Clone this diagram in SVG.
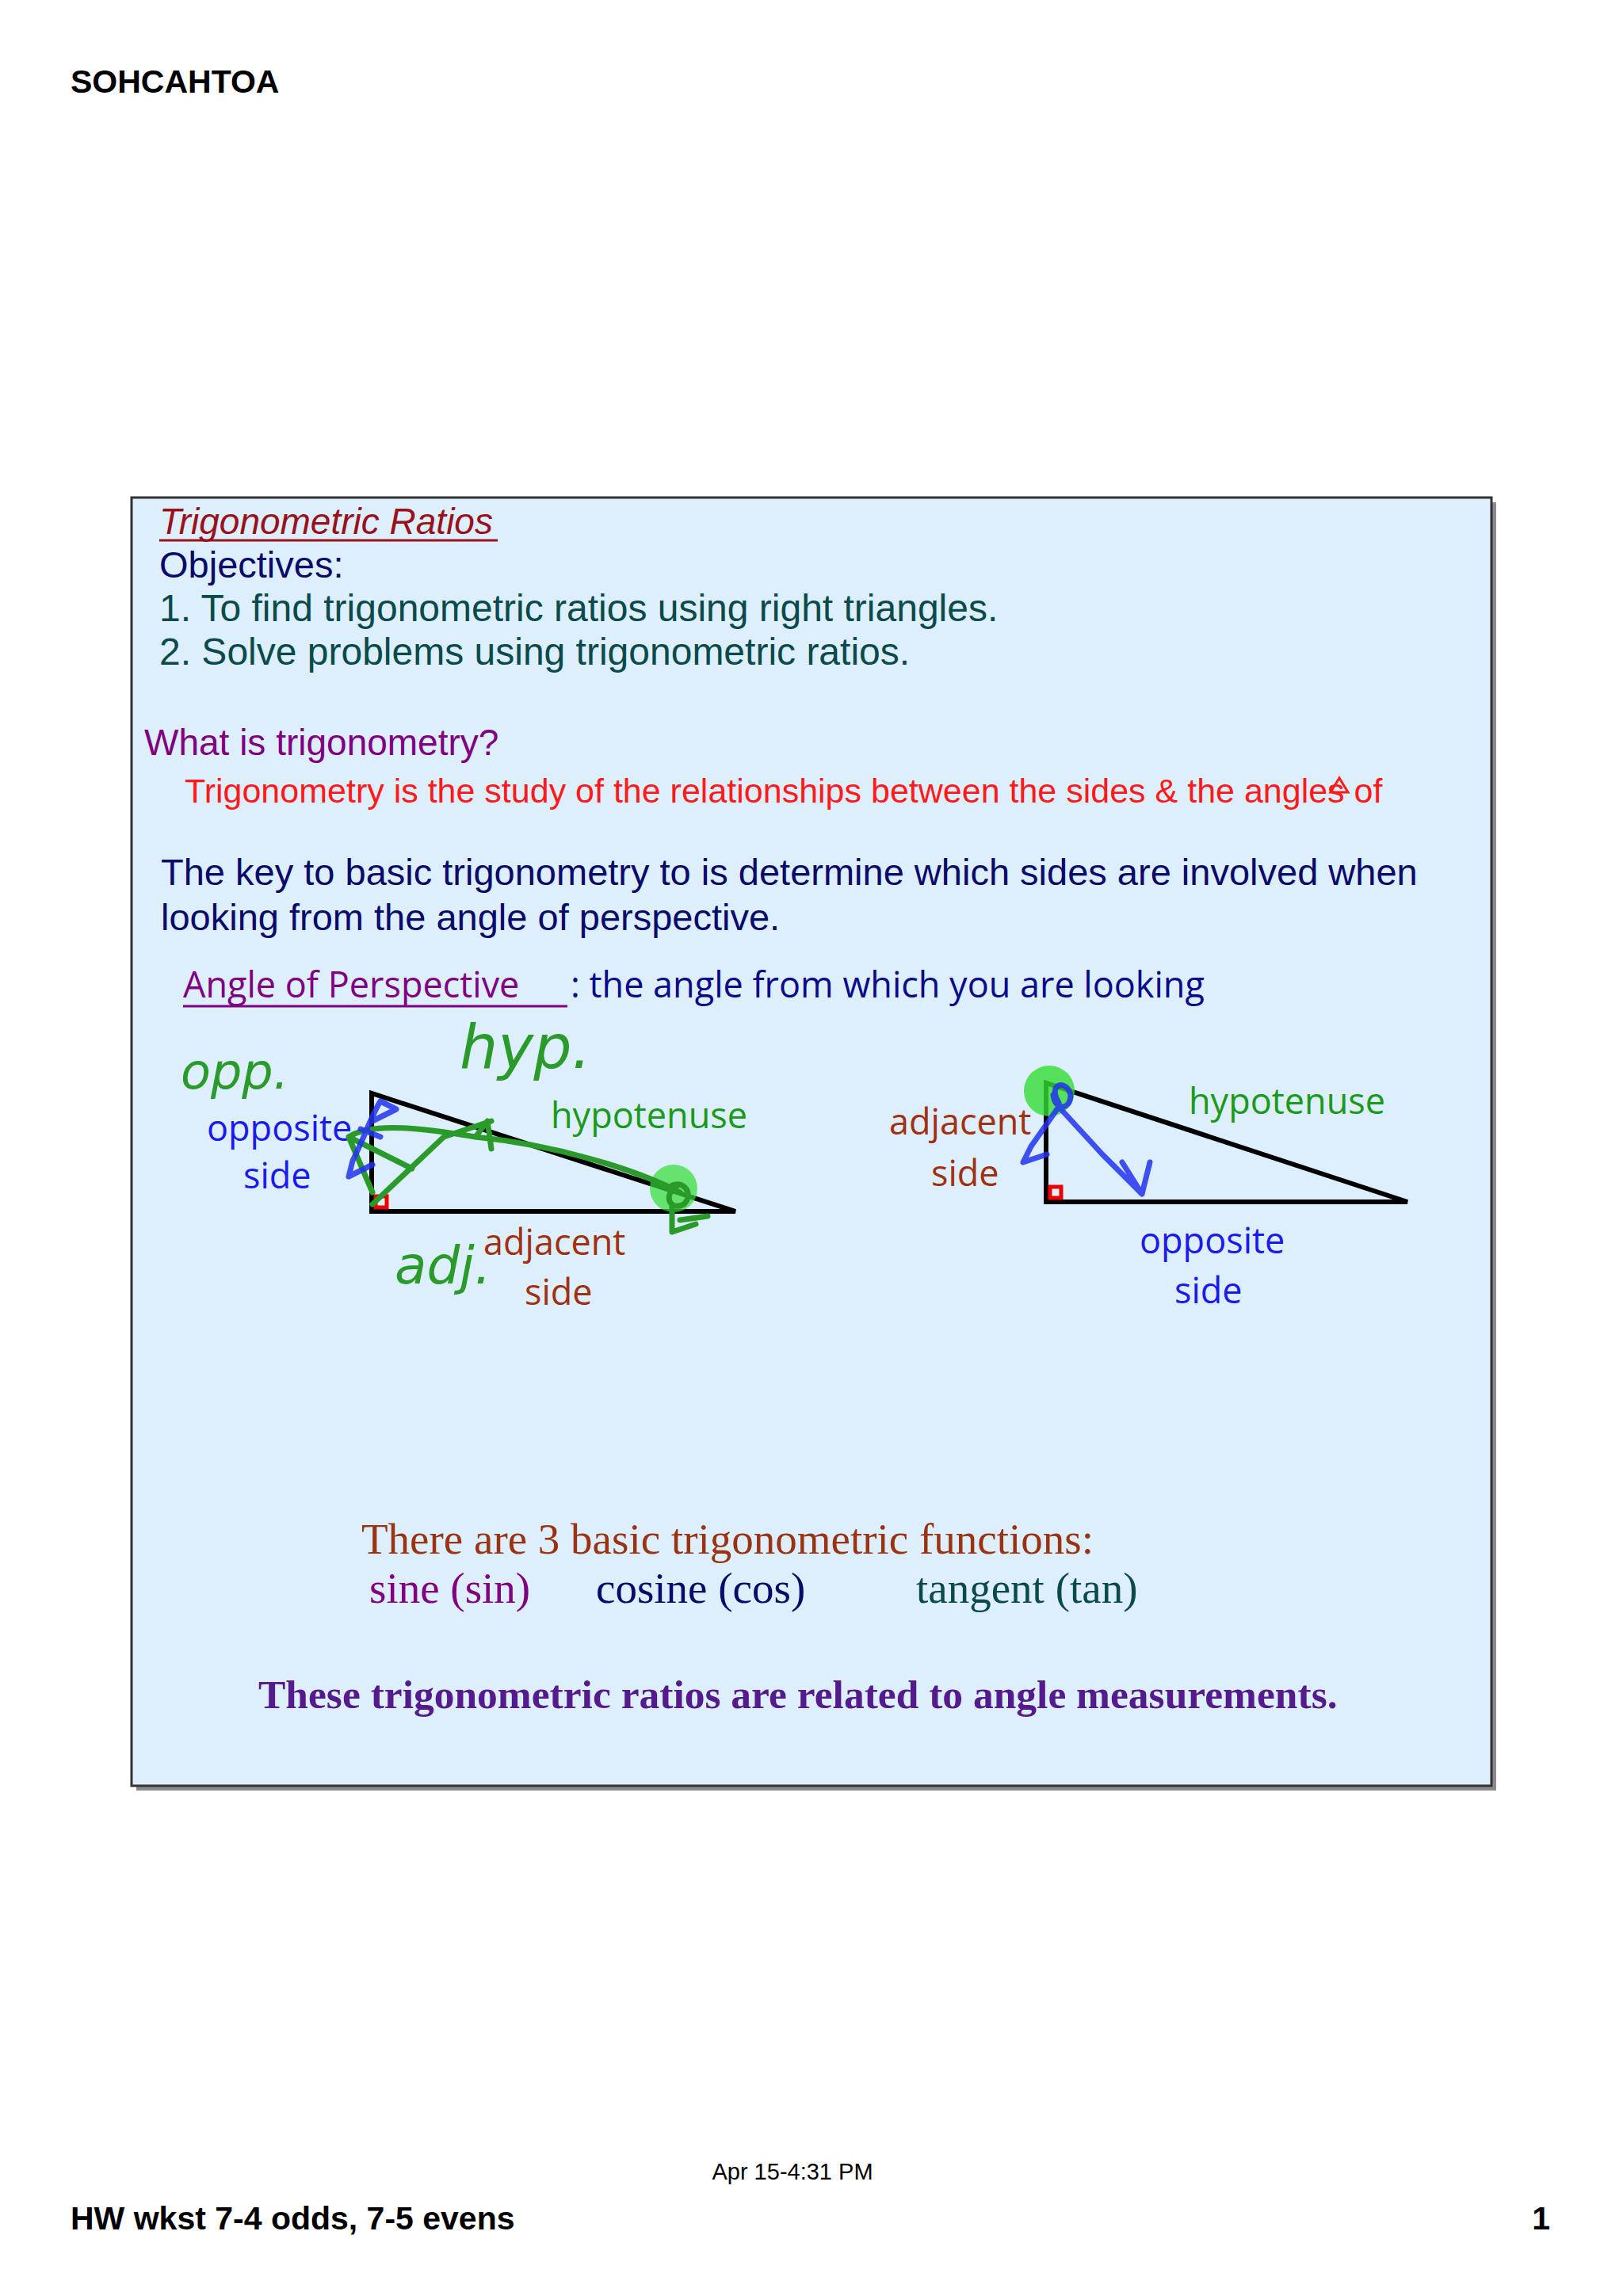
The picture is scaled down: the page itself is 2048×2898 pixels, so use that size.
<svg xmlns="http://www.w3.org/2000/svg" width="2048" height="2898" viewBox="0 0 2048 2898">
<style>
.a{font-family:"Liberation Sans",Arial,sans-serif}
.t{font-family:"Liberation Serif","Times New Roman",serif}
.c{font-family:"Open Sans","DejaVu Sans",sans-serif}
.h{font-family:"DejaVu Sans",sans-serif;font-style:italic}
.tri{fill:none;stroke:#000;stroke-width:6}
.gs{fill:none;stroke:#2a9a2a;stroke-width:7;stroke-linecap:round;stroke-linejoin:round}
.bs{fill:none;stroke:#2233ee;stroke-width:7;stroke-linecap:round;stroke-linejoin:round;opacity:.85}
</style>
<rect width="2048" height="2898" fill="#fff"/>
<text class="a" x="89" y="117" font-size="41" font-weight="bold">SOHCAHTOA</text>
<g id="card">
<rect x="172" y="634" width="1716" height="1626" fill="#8a8a8a"/>
<rect x="166" y="628" width="1716" height="1626" fill="#ddeefc" stroke="#333" stroke-width="3"/>
</g>
<g id="title">
<text class="a" x="201" y="674" font-size="46" font-style="italic" fill="#99111a">Trigonometric Ratios</text>
<line x1="201" y1="682" x2="628" y2="682" stroke="#99111a" stroke-width="3"/>
<text class="a" x="201" y="729" font-size="47" fill="#0a0a6a">Objectives:</text>
<text class="a" x="201" y="784" font-size="48" fill="#0b4a4a">1.  To find trigonometric ratios using right triangles.</text>
<text class="a" x="201" y="839" font-size="48" fill="#0b4a4a">2.  Solve problems using trigonometric ratios.</text>
<text class="a" x="182" y="953" font-size="46" fill="#800080">What is trigonometry?</text>
<text class="a" x="233" y="1013" font-size="43" fill="#ff1a1a">Trigonometry is the study of the relationships between the sides &amp; the angles of</text>
<polygon points="1690,982 1679,1000 1701,1000" fill="none" stroke="#ff1a1a" stroke-width="3"/>
<text class="a" x="203" y="1117" font-size="47" fill="#0a0a6a">The key to basic trigonometry to is determine which sides are involved when</text>
<text class="a" x="203" y="1174" font-size="47" fill="#0a0a6a">looking from the angle of perspective.</text>
<text class="c" x="231" y="1259" font-size="45" fill="#800080">Angle of Perspective </text>
<line x1="231" y1="1270" x2="716" y2="1270" stroke="#800080" stroke-width="3"/>
<text class="c" x="720" y="1259" font-size="45" fill="#0a0a8a">: the angle from which you are looking</text>
</g>
<g id="triangle1">
<polygon class="tri" points="469,1380 469,1529 928,1529"/>
<rect x="474" y="1510" width="14" height="14" fill="none" stroke="#ee0000" stroke-width="5"/>
<circle cx="850" cy="1500" r="30" fill="#33dd33" opacity=".7"/>
<text class="c" x="261" y="1440" font-size="45" fill="#1a1aee">opposite</text>
<text class="c" x="307" y="1500" font-size="45" fill="#1a1aee">side</text>
<text class="c" x="695" y="1424" font-size="45" fill="#1a9a1a">hypotenuse</text>
<text class="c" x="610" y="1584" font-size="45" fill="#a03010">adjacent</text>
<text class="c" x="662" y="1647" font-size="45" fill="#a03010">side</text>
<text class="h" x="228" y="1374" font-size="62" fill="#2a9a2a">opp.</text>
<text class="h" x="580" y="1348" font-size="76" fill="#2a9a2a">hyp.</text>
<text class="h" x="498" y="1620" font-size="66" fill="#2a9a2a">adj.</text>
<path class="gs" d="M858,1505 C800,1475 700,1445 600,1435 C540,1425 470,1415 440,1435 M440,1435 L520,1475 M440,1435 L470,1505 M470,1520 L560,1435 L620,1415 M600,1435 L615,1415 L620,1450 M843,1500 C858,1485 878,1505 863,1520 C843,1530 838,1505 853,1500 M848,1520 L848,1555 L878,1545 M858,1540 L893,1535"/>
<path class="bs" d="M480,1390 C470,1405 460,1435 445,1465 L440,1485 L470,1470 M480,1390 L500,1400 L470,1415 M455,1425 L480,1435"/>
</g>
<g id="triangle2">
<polygon class="tri" points="1320,1367 1320,1517 1776,1517"/>
<rect x="1325" y="1498" width="14" height="14" fill="none" stroke="#ee0000" stroke-width="5"/>
<circle cx="1324" cy="1377" r="32" fill="#33dd33" opacity=".8"/>
<path class="bs" d="M1336,1392 C1321,1367 1346,1362 1351,1382 C1351,1402 1331,1402 1329,1382 M1336,1397 L1301,1447 L1291,1467 L1321,1457 M1336,1397 L1391,1457 L1441,1507 L1451,1467 M1441,1507 L1416,1467"/>
<text class="c" x="1122" y="1432" font-size="45" fill="#a03010">adjacent</text>
<text class="c" x="1175" y="1497" font-size="45" fill="#a03010">side</text>
<text class="c" x="1500" y="1406" font-size="45" fill="#1a9a1a">hypotenuse</text>
<text class="c" x="1438" y="1582" font-size="45" fill="#1a1aee">opposite</text>
<text class="c" x="1482" y="1645" font-size="45" fill="#1a1aee">side</text>
</g>
<g id="functions">
<text class="t" x="456" y="1961" font-size="55" fill="#993311">There are 3 basic trigonometric functions:</text>
<text class="t" x="466" y="2023" font-size="55" fill="#800080">sine (sin)</text>
<text class="t" x="752" y="2023" font-size="55" fill="#0a0a6a">cosine (cos)</text>
<text class="t" x="1156" y="2023" font-size="55" fill="#0b4a4a">tangent (tan)</text>
<text class="t" x="326" y="2156" font-size="51.5" font-weight="bold" fill="#551a8b">These trigonometric ratios are related to angle measurements.</text>
</g>
<text class="a" x="1000" y="2751" font-size="29" text-anchor="middle">Apr 15-4:31 PM</text>
<text class="a" x="89" y="2814" font-size="41" font-weight="bold">HW wkst 7-4 odds, 7-5 evens</text>
<text class="a" x="1956" y="2814" font-size="41" font-weight="bold" text-anchor="end">1</text>
</svg>
